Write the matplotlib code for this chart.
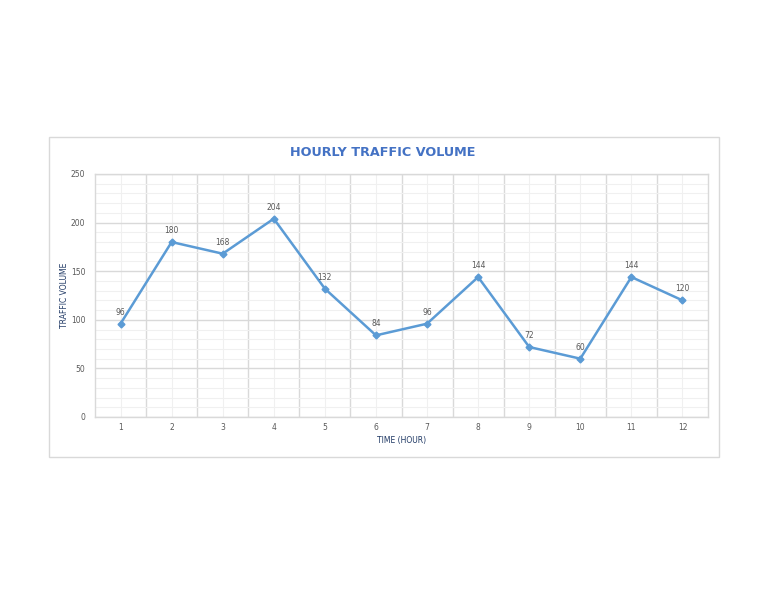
import matplotlib
matplotlib.use("Agg")
import matplotlib.pyplot as plt
from matplotlib.patches import Rectangle
from matplotlib.ticker import MultipleLocator

hours = [1, 2, 3, 4, 5, 6, 7, 8, 9, 10, 11, 12]
volume = [96, 180, 168, 204, 132, 84, 96, 144, 72, 60, 144, 120]
title = "HOURLY TRAFFIC VOLUME"
xlabel = "TIME (HOUR)"
ylabel = "TRAFFIC VOLUME"

W, H = 768, 594
fig = plt.figure(figsize=(W / 100, H / 100), dpi=100)
fig.patch.set_facecolor("white")

# chart box
box = Rectangle((49 / W, 1 - 457 / H), (719 - 49) / W, (457 - 137) / H,
                transform=fig.transFigure, facecolor="white",
                edgecolor="#d9d9d9", linewidth=1.0, zorder=-10)
fig.add_artist(box)

left, right, top, bottom = 95, 708, 174, 417
ax = fig.add_axes([left / W, 1 - bottom / H, (right - left) / W, (bottom - top) / H])
ax.set_zorder(1)
ax.patch.set_alpha(0)
ax.set_xlim(0.5, 12.5)
ax.set_ylim(0, 250)

ax.yaxis.set_major_locator(MultipleLocator(50))
ax.yaxis.set_minor_locator(MultipleLocator(10))
ax.set_xticks(hours)
ax.set_xticks([h + 0.5 for h in hours[:-1]], minor=True)

ax.grid(which="major", axis="y", color="#d9d9d9", linewidth=1.0)
ax.grid(which="minor", axis="y", color="#f0f0f0", linewidth=0.8)
ax.grid(which="major", axis="x", color="#f0f0f0", linewidth=0.8)
ax.grid(which="minor", axis="x", color="#d9d9d9", linewidth=1.0)
ax.set_axisbelow(True)

for s in ax.spines.values():
    s.set_color("#d9d9d9")
    s.set_linewidth(1.0)

ax.tick_params(which="both", length=0)
ax.tick_params(axis="both", labelsize=5.5, labelcolor="#595959")
ax.tick_params(axis="x", pad=4.5)
ax.tick_params(axis="y", pad=7)

ax.plot(hours, volume, color="#5b9bd5", linewidth=1.8, marker="D", markersize=3.5,
        markerfacecolor="#5b9bd5", markeredgecolor="#5b9bd5", zorder=3)
for h, v in zip(hours, volume):
    ax.annotate(str(v), (h, v), xytext=(0, 5), textcoords="offset points",
                ha="center", va="bottom", fontsize=5.5, color="#595959")

ax.set_xlabel(xlabel, fontsize=5.5, color="#1f3864", labelpad=3)
ax.set_ylabel(ylabel, fontsize=5.5, color="#1f3864", labelpad=1.5)

fig.text(383 / W, 1 - 153 / H, title, ha="center", va="center", fontsize=9.2,
         fontweight="bold", color="#4472c4", family="DejaVu Sans")

fig.savefig("out.png", dpi=100, facecolor="white")
